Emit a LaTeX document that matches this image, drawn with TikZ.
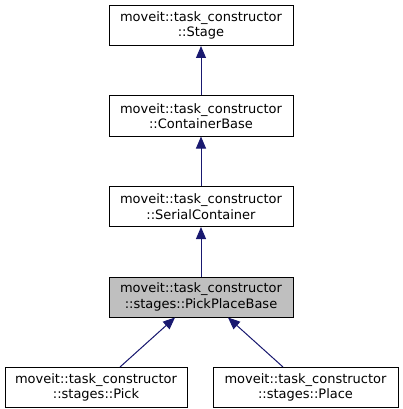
\documentclass[tikz,border=0pt]{standalone}
\usepackage{fontspec}
\setmainfont{DejaVu Sans}
\usetikzlibrary{positioning,arrows.meta}
\definecolor{edgeblue}{HTML}{191970}
\definecolor{curgray}{HTML}{BFBFBF}
\tikzstyle{classbox}=[rectangle, draw=black, line width=1pt, fill=white, minimum width=184pt, minimum height=40pt, inner sep=2pt, align=center, font=\fontsize{13pt}{15.5pt}\selectfont]
\tikzstyle{curbox}=[classbox, fill=curgray]
\tikzstyle{inherit}=[draw=edgeblue, line width=1pt, -{Triangle[length=12pt,width=10pt]}, fill=edgeblue]

\begin{document}
\begin{tikzpicture}[node distance=49.5pt]
    \useasboundingbox (0,0) rectangle (403pt,-409pt);

    \node (stage) [classbox] at (201pt,-25.5pt) {moveit::task\_constructor\\::Stage};
    \node (contbase) [classbox, below=of stage] {moveit::task\_constructor\\::ContainerBase};
    \node (serial) [classbox, below=of contbase] {moveit::task\_constructor\\::SerialContainer};

% current class
    \node (ppbase) [curbox, below=of serial] {moveit::task\_constructor\\::stages::PickPlaceBase};

% derived stages
    \node (pick) [classbox, minimum width=182pt, below=of ppbase, xshift=-105pt] {moveit::task\_constructor\\::stages::Pick};
    \node (place) [classbox, minimum width=185pt, below=of ppbase, xshift=104.5pt] {moveit::task\_constructor\\::stages::Place};

    \draw[inherit] (contbase.north) -- (stage.south);
    \draw[inherit] (serial.north) -- (contbase.south);
    \draw[inherit] (ppbase.north) -- (serial.south);
    \draw[inherit] ([xshift=24pt]pick.north) -- ([xshift=-26pt]ppbase.south);
    \draw[inherit] ([xshift=-22.5pt]place.north) -- ([xshift=27pt]ppbase.south);

\end{tikzpicture}
\end{document}
